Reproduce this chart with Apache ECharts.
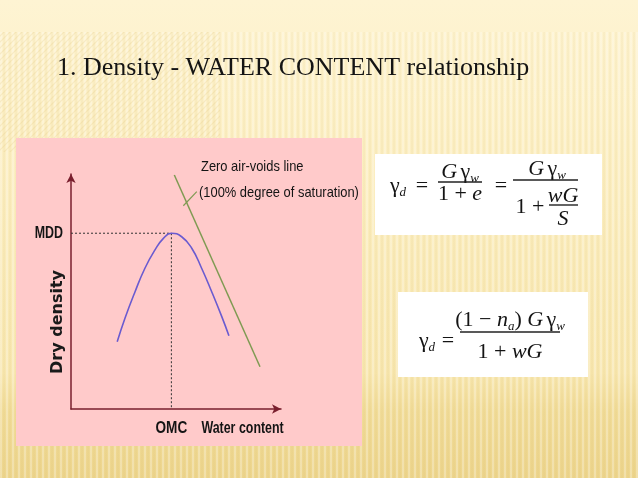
<!DOCTYPE html>
<html><head><meta charset="utf-8">
<script src="https://cdn.jsdelivr.net/npm/echarts@6/dist/echarts.min.js"></script>
<style>html,body{margin:0;padding:0;background:#FDF1C9}#c{width:638px;height:478px}</style>
</head><body><div id="c"></div>
<script>
// Data (axis units 0..10, arbitrary)
const waterContent = [2.20, 2.57, 3.05, 3.52, 4.00, 4.40, 4.78, 5.27, 5.75, 6.22, 6.70, 7.18, 7.52];
const dryDensity   = [2.86, 3.86, 4.99, 5.99, 6.77, 7.26, 7.48, 7.33, 6.84, 5.99, 4.99, 3.93, 3.12];
const zavWater = [4.92, 9.00];
const zavDensity = [9.96, 1.80];
const leaderWater = [5.35, 5.99];
const leaderDensity = [8.65, 9.25];
const OMC = 4.78;
const MDD = 7.48;
const WC_LABEL_X = 8.17;
const axisLabels = ['MDD', 'OMC', 'Water content'];
const yAxisName = 'Dry density';
const titleText = '1. Density - WATER CONTENT relationship';
const annotation = ['Zero air-voids line', '(100% degree of saturation)'];

function zip(a, b) { return a.map((v, i) => [v, b[i]]); }

function pattern(w, h, fn) {
  const c = document.createElement('canvas'); c.width = w; c.height = h;
  fn(c.getContext('2d')); return c;
}
const vStripe = pattern(6, 10, g => { g.fillStyle = 'rgba(255,255,255,0.32)'; g.fillRect(0, 0, 2, 10); g.fillStyle='rgba(210,175,90,0.10)'; g.fillRect(3,0,2,10); });
const dStripe = pattern(6, 6, g => { g.strokeStyle = 'rgba(225,195,120,0.30)'; g.lineWidth = 1.1; g.beginPath(); g.moveTo(0, 6); g.lineTo(6, 0); g.moveTo(-1, 1); g.lineTo(1, -1); g.moveTo(5, 7); g.lineTo(7, 5); g.stroke(); });

const SERIF = 'Liberation Serif';
const SANS = '"Liberation Sans", Arial';
const txt = '#141414';

function T(x, y, text, font, extra, props) {
  return Object.assign({ type: 'text', z: 5, style: Object.assign({ x, y, text, font, fill: txt, textAlign: 'center', textVerticalAlign: 'middle' }, extra || {}) }, props || {});
}
function N(x, y, text, font, sx, align) {
  return { type: 'text', z: 5, x, y, scaleX: sx, style: { x: 0, y: 0, text, font, fill: '#141414', textAlign: align || 'left', textVerticalAlign: 'middle' } };
}
function bar(x1, x2, y) {
  return { type: 'line', z: 5, shape: { x1, y1: y, x2, y2: y }, style: { stroke: '#222', lineWidth: 1.4 } };
}
const rich = {
  i: { fontFamily: SERIF, fontStyle: 'italic', fontSize: 22, lineHeight: 26 },
  s: { fontFamily: SERIF, fontStyle: 'italic', fontSize: 13, lineHeight: 26, verticalAlign: 'bottom' },
  n: { fontFamily: SERIF, fontSize: 22, lineHeight: 26 }
};
function R(x, y, text) {
  return { type: 'text', z: 5, style: { x, y, text, rich, fill: txt, textAlign: 'center', textVerticalAlign: 'middle' } };
}

const chart = echarts.init(document.getElementById('c'));
chart.setOption({
  backgroundColor: '#FDF1C9',
  animation: false,
  grid: { left: 71, top: 174, width: 210, height: 235 },
  xAxis: {
    type: 'value', min: 0, max: 10,
    axisLine: { show: true, symbol: ['none', 'arrow'], symbolSize: [7, 9], lineStyle: { color: '#7A1F2E', width: 1.5 } },
    axisTick: { show: false }, axisLabel: { show: false }, splitLine: { show: false }
  },
  yAxis: {
    type: 'value', min: 0, max: 10,
    axisLine: { show: true, symbol: ['none', 'arrow'], symbolSize: [7, 9], lineStyle: { color: '#7A1F2E', width: 1.5 } },
    axisTick: { show: false }, axisLabel: { show: false }, splitLine: { show: false }
  },
  series: [
    { type: 'line', data: zip(waterContent, dryDensity), smooth: 0.5, showSymbol: false, lineStyle: { color: '#6A5BD0', width: 1.6 }, z: 4 },
    { type: 'line', data: zip(zavWater, zavDensity), showSymbol: false, lineStyle: { color: '#7F9A52', width: 1.5 }, z: 4 },
    { type: 'line', data: zip(leaderWater, leaderDensity), showSymbol: false, lineStyle: { color: '#7F9A52', width: 1.2 }, z: 4 },
    { type: 'line', data: [[0, MDD], [OMC, MDD]], showSymbol: false, lineStyle: { color: '#333', width: 1, type: [2, 2] }, z: 3 },
    { type: 'line', data: [[OMC, MDD], [OMC, 0]], showSymbol: false, lineStyle: { color: '#333', width: 1, type: [2, 2] }, z: 3 }
  ]
});

const pMDD = chart.convertToPixel({ gridIndex: 0 }, [0, MDD]);
const pOMC = chart.convertToPixel({ gridIndex: 0 }, [OMC, 0]);
const pWC = chart.convertToPixel({ gridIndex: 0 }, [WC_LABEL_X, 0]);
const LBL = 'bold 17px ' + SANS;

chart.setOption({
  graphic: [
    { type: 'rect', z: -20, shape: { x: 0, y: 0, width: 638, height: 478 },
      style: { fill: { type: 'linear', x: 0, y: 0, x2: 0, y2: 1, colorStops: [
        { offset: 0, color: '#FEF4D3' }, { offset: 0.3, color: '#FCEFC4' }, { offset: 0.78, color: '#F8E7B0' }, { offset: 0.86, color: '#F1DC99' }, { offset: 1, color: '#EDD58D' } ] } } },
    { type: 'rect', z: -19, shape: { x: 0, y: 32, width: 638, height: 446 }, style: { fill: { image: vStripe, repeat: 'repeat' }, opacity: 0.8 } },
    { type: 'rect', z: -18, shape: { x: 0, y: 32, width: 220, height: 120 }, style: { fill: { image: dStripe, repeat: 'repeat' }, opacity: 0.8 } },
    { type: 'rect', z: -10, shape: { x: 16, y: 138, width: 346, height: 308 }, style: { fill: '#FFCACA' } },
    { type: 'rect', z: -10, shape: { x: 375, y: 154, width: 227, height: 81 }, style: { fill: '#FFFFFF' } },
    { type: 'rect', z: -10, shape: { x: 398, y: 292, width: 190, height: 85 }, style: { fill: '#FFFFFF' } },
    T(57, 68, titleText, '26px ' + SERIF, { textAlign: 'left' }),
    N(201, 167, annotation[0], '15px ' + SANS, 0.86),
    N(199, 193, annotation[1], '15px ' + SANS, 0.86),
    N(pMDD[0] - 8, pMDD[1], axisLabels[0], LBL, 0.73, 'right'),
    N(pOMC[0], pOMC[1] + 19, axisLabels[1], LBL, 0.8, 'center'),
    N(pWC[0], pWC[1] + 19, axisLabels[2], LBL, 0.73, 'center'),
    { type: 'text', z: 5, x: 58, y: 322, rotation: Math.PI / 2,
      style: { x: 0, y: 0, text: yAxisName, font: 'bold 16px "DejaVu Sans"', fill: '#1a1a1a', textAlign: 'center', textVerticalAlign: 'middle' } },
    // formula 1
    R(398, 186, '{n|γ}{s|d}'),
    T(422, 186, '=', '22px ' + SERIF),
    R(460, 172, '{i|G} {n|γ}{s|w}'),
    bar(438, 482, 182),
    R(460, 194, '{n|1 + }{i|e}'),
    T(501, 186, '=', '22px ' + SERIF),
    R(547, 169, '{i|G} {n|γ}{s|w}'),
    bar(513, 578, 180),
    R(530, 207, '{n|1 +}'),
    R(563, 196, '{i|wG}'),
    bar(549, 578, 205),
    R(563, 219, '{i|S}'),
    // formula 2
    R(427, 341, '{n|γ}{s|d}'),
    T(448, 341, '=', '22px ' + SERIF),
    R(510, 320, '{n|(1 − }{i|n}{s|a}{n|) }{i|G} {n|γ}{s|w}'),
    bar(460, 560, 332),
    R(510, 352, '{n|1 + }{i|wG}')
  ]
});
</script>
</body></html>
